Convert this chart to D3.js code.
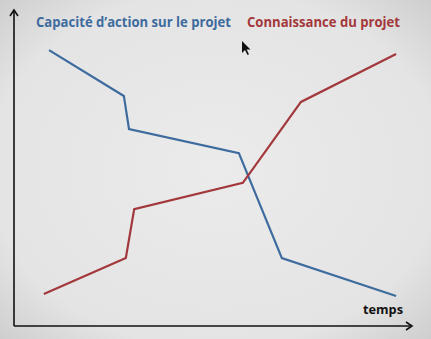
<!DOCTYPE html>
<html lang="fr">
  <head>
    <meta charset="utf-8">
    <title>Capacité / Connaissance</title>
    <script src="https://d3js.org/d3.v7.js"></script>
    <style>
      body { margin: 0; }
    </style>
  </head>
  <body>
    <script>

      const w = 431;
      const h = 339;

      // values (time 0..10, level 0..10)
      const capaciteX = [0.88, 2.76, 2.89, 5.65, 6.73, 9.6];
      const capaciteY = [8.73, 7.28, 6.23, 5.47, 2.15, 0.95];
      const connaissanceX = [0.75, 2.81, 3.02, 5.75, 7.21, 9.6];
      const connaissanceY = [1.01, 2.15, 3.70, 4.53, 7.09, 8.61];
      const seriesNames = ["Capacité d\u2019action sur le projet", "Connaissance du projet"];
      const axisLabel = "temps";

      const xScale = d3.scaleLinear().domain([0, 10]).range([14, 412]);
      const yScale = d3.scaleLinear().domain([0, 10]).range([326, 10]);

      const svg = d3.select("body")
                    .append("svg")
                    .attr("width", w)
                    .attr("height", h);

      // background with a soft vignette
      const grad = svg.append("defs")
                      .append("radialGradient")
                      .attr("id", "bg")
                      .attr("cx", "50%").attr("cy", "50%").attr("r", "75%");
      grad.append("stop").attr("offset", "0%").attr("stop-color", "#ebebeb");
      grad.append("stop").attr("offset", "70%").attr("stop-color", "#e4e4e4");
      grad.append("stop").attr("offset", "100%").attr("stop-color", "#c9c9c9");

      svg.append("rect")
         .attr("width", w)
         .attr("height", h)
         .attr("fill", "url(#bg)");

      // axes with arrow heads
      const axes = svg.append("g")
                      .attr("stroke", "#111")
                      .attr("stroke-width", 1.6)
                      .attr("fill", "none");

      axes.append("line")
          .attr("x1", xScale(0)).attr("y1", yScale(0))
          .attr("x2", xScale(0)).attr("y2", yScale(10));
      axes.append("line")
          .attr("x1", xScale(0)).attr("y1", yScale(0))
          .attr("x2", xScale(10)).attr("y2", yScale(0));

      axes.append("path")
          .attr("d", `M${xScale(0) - 4},${yScale(10) + 6} L${xScale(0)},${yScale(10)} L${xScale(0) + 4},${yScale(10) + 6}`);
      axes.append("path")
          .attr("d", `M${xScale(10) - 6},${yScale(0) - 4} L${xScale(10)},${yScale(0)} L${xScale(10) - 6},${yScale(0) + 4}`);

      // lines
      const line = d3.line()
                     .x(d => xScale(d[0]))
                     .y(d => yScale(d[1]));

      const series = [
        {pts: d3.zip(capaciteX, capaciteY), color: "#3d6b9e"},
        {pts: d3.zip(connaissanceX, connaissanceY), color: "#a3383c"}
      ];

      svg.append("g")
         .selectAll("path")
         .data(series)
         .enter().append("path")
         .attr("d", d => line(d.pts))
         .attr("fill", "none")
         .attr("stroke", d => d.color)
         .attr("stroke-width", 2.2)
         .attr("stroke-linejoin", "miter");

      // titles
      svg.append("text")
         .attr("x", 36).attr("y", 27)
         .attr("font-family", "Open Sans, sans-serif")
         .attr("font-weight", "bold")
         .attr("font-size", 14)
         .attr("textLength", 195)
         .attr("lengthAdjust", "spacingAndGlyphs")
         .attr("fill", "#3d6b9e")
         .text(seriesNames[0]);

      svg.append("text")
         .attr("x", 247).attr("y", 27)
         .attr("font-family", "Open Sans, sans-serif")
         .attr("font-weight", "bold")
         .attr("font-size", 14)
         .attr("textLength", 153)
         .attr("lengthAdjust", "spacingAndGlyphs")
         .attr("fill", "#a3383c")
         .text(seriesNames[1]);

      svg.append("text")
         .attr("x", 363).attr("y", 314)
         .attr("font-family", "Open Sans, sans-serif")
         .attr("font-weight", "bold")
         .attr("font-size", 13)
         .attr("textLength", 40)
         .attr("lengthAdjust", "spacingAndGlyphs")
         .attr("fill", "#111")
         .text(axisLabel);

      // mouse pointer visible in the screenshot
      svg.append("path")
         .attr("d", "M242,41 L242,53 L245,50 L247.5,55 L249,54.3 L246.6,49.4 L250.5,49.4 Z")
         .attr("fill", "#111");

    </script>
  </body>
</html>
